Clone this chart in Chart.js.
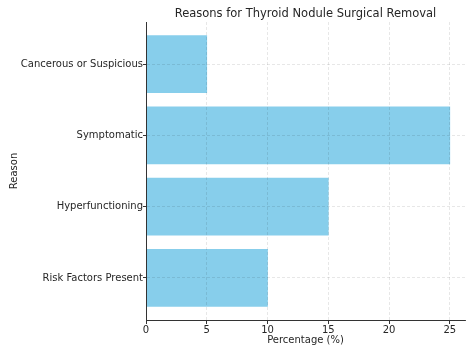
<!DOCTYPE html>
<html>
<head>
<meta charset="utf-8">
<script src="https://cdn.jsdelivr.net/npm/chart.js@4"></script>
<style>
html,body{margin:0;padding:0;background:#fff;}
#wrap{width:474px;height:355px;}
</style>
</head>
<body>
<div id="wrap"><canvas id="c" width="474" height="355"></canvas></div>
<script>
const categories = ["Cancerous or Suspicious", "Symptomatic", "Hyperfunctioning", "Risk Factors Present"];
const percentages = [5, 25, 15, 10];
const xTicks = [0, 5, 10, 15, 20, 25];
const chartTitle = "Reasons for Thyroid Nodule Surgical Removal";

const FONT = "'DejaVu Sans', sans-serif";
const TXT = "#262626";
const GRID = 'rgba(0,0,0,0.12)';

const titlePlugin = {
  id: 'centeredTitle',
  afterDraw(chart) {
    const {ctx, chartArea} = chart;
    ctx.save();
    ctx.font = "11.5px " + FONT;
    ctx.fillStyle = TXT;
    ctx.textAlign = 'center';
    ctx.textBaseline = 'middle';
    ctx.fillText(chartTitle, (chartArea.left + chartArea.right) / 2, 14);
    ctx.restore();
  }
};

new Chart(document.getElementById('c'), {
  type: 'bar',
  data: {
    datasets: [{
      data: percentages.map((v, i) => ({x: v, y: i})),
      backgroundColor: '#87CEEB',
      borderWidth: 0,
      barThickness: 57
    }]
  },
  options: {
    indexAxis: 'y',
    responsive: false,
    animation: false,
    layout: {padding: {top: 22, right: 9, left: 0, bottom: 0}},
    plugins: {legend: {display: false}, tooltip: {enabled: false}, title: {display: false}},
    scales: {
      x: {
        type: 'linear',
        position: 'bottom',
        min: 0,
        max: 26.25,
        offset: false,
        afterBuildTicks: (s) => { s.ticks = xTicks.map(v => ({value: v})); },
        afterFit: (s) => { s.height = 35; },
        ticks: {font: {family: FONT, size: 10}, color: TXT, padding: 0, maxRotation: 0},
        grid: {color: GRID, lineWidth: 0.8, z: 1, tickLength: 4, tickColor: '#333', tickWidth: 1, tickBorderDash: [], offset: false},
        border: {display: true, color: '#333', width: 1, dash: [3, 2], z: 2},
        title: {display: true, text: 'Percentage (%)', font: {family: FONT, size: 10}, color: TXT, padding: {top: 9, bottom: 9}}
      },
      y: {
        type: 'linear',
        position: 'left',
        reverse: true,
        min: -0.59,
        max: 3.59,
        offset: false,
        afterBuildTicks: (s) => { s.ticks = categories.map((c, i) => ({value: i})); },
        afterFit: (s) => { s.width = 146; },
        ticks: {
          font: {family: FONT, size: 10}, color: TXT, padding: 0,
          callback: (v) => categories[v] !== undefined ? categories[v] : ''
        },
        grid: {color: GRID, lineWidth: 0.8, z: 1, tickLength: 3, tickColor: '#333', tickWidth: 1, tickBorderDash: [], offset: false},
        border: {display: true, color: '#333', width: 1, dash: [3, 2], z: 2},
        title: {display: true, text: 'Reason', font: {family: FONT, size: 10}, color: TXT, padding: {top: 8, bottom: 8}}
      }
    }
  },
  plugins: [titlePlugin]
});
</script>
</body>
</html>
